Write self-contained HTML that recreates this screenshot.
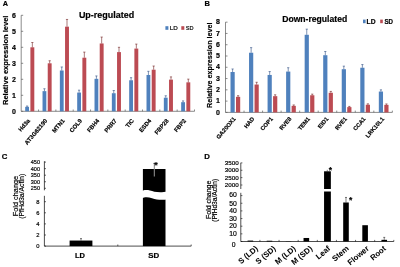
<!DOCTYPE html>
<html><head><meta charset="utf-8"><style>
html,body{margin:0;padding:0;background:#fff;}
svg{display:block;will-change:transform;}
text{font-family:"Liberation Sans", sans-serif;stroke:#000;stroke-width:0.18px;}
</style></head><body>
<svg width="400" height="267" viewBox="0 0 400 267">
<rect width="400" height="267" fill="#fff"/>
<text x="2.80" y="6.20" font-size="7.3" font-weight="bold" text-anchor="start" fill="#000">A</text>
<text x="78.90" y="18.10" font-size="8.8" font-weight="bold" text-anchor="start" textLength="55.3" lengthAdjust="spacingAndGlyphs" fill="#000">Up-regulated</text>
<rect x="165.40" y="26.20" width="3.00" height="3.60" fill="#4F81BD"/>
<text x="169.80" y="30.20" font-size="6.0" font-weight="normal" text-anchor="start" textLength="8.0" lengthAdjust="spacingAndGlyphs" fill="#000">LD</text>
<rect x="181.30" y="26.20" width="3.00" height="3.60" fill="#BC4B53"/>
<text x="185.70" y="30.20" font-size="6.0" font-weight="normal" text-anchor="start" textLength="7.8" lengthAdjust="spacingAndGlyphs" fill="#000">SD</text>
<text x="8.30" y="60.30" font-size="7.6" font-weight="bold" text-anchor="middle" textLength="89.5" lengthAdjust="spacingAndGlyphs" transform="rotate(-90 8.30 60.30)" fill="#000">Relative expression level</text>
<text x="15.80" y="113.50" font-size="7.0" font-weight="bold" text-anchor="end" fill="#000">0</text>
<line x1="21.20" y1="111.30" x2="23.20" y2="111.30" stroke="#5a5a5a" stroke-width="0.7"/>
<text x="15.80" y="97.50" font-size="7.0" font-weight="bold" text-anchor="end" fill="#000">1</text>
<line x1="21.20" y1="95.30" x2="23.20" y2="95.30" stroke="#5a5a5a" stroke-width="0.7"/>
<text x="15.80" y="81.50" font-size="7.0" font-weight="bold" text-anchor="end" fill="#000">2</text>
<line x1="21.20" y1="79.30" x2="23.20" y2="79.30" stroke="#5a5a5a" stroke-width="0.7"/>
<text x="15.80" y="65.50" font-size="7.0" font-weight="bold" text-anchor="end" fill="#000">3</text>
<line x1="21.20" y1="63.30" x2="23.20" y2="63.30" stroke="#5a5a5a" stroke-width="0.7"/>
<text x="15.80" y="49.50" font-size="7.0" font-weight="bold" text-anchor="end" fill="#000">4</text>
<line x1="21.20" y1="47.30" x2="23.20" y2="47.30" stroke="#5a5a5a" stroke-width="0.7"/>
<text x="15.80" y="33.50" font-size="7.0" font-weight="bold" text-anchor="end" fill="#000">5</text>
<line x1="21.20" y1="31.30" x2="23.20" y2="31.30" stroke="#5a5a5a" stroke-width="0.7"/>
<text x="15.80" y="17.50" font-size="7.0" font-weight="bold" text-anchor="end" fill="#000">6</text>
<line x1="21.20" y1="15.30" x2="23.20" y2="15.30" stroke="#5a5a5a" stroke-width="0.7"/>
<line x1="21.20" y1="15.30" x2="21.20" y2="111.30" stroke="#5a5a5a" stroke-width="0.7"/>
<line x1="21.20" y1="111.30" x2="194.50" y2="111.30" stroke="#5a5a5a" stroke-width="0.7"/>
<line x1="38.53" y1="111.30" x2="38.53" y2="109.50" stroke="#5a5a5a" stroke-width="0.7"/>
<rect x="25.20" y="106.82" width="3.80" height="4.48" fill="#4F81BD"/>
<line x1="27.10" y1="106.02" x2="27.10" y2="106.82" stroke="#2a4a80" stroke-width="0.6"/>
<line x1="26.00" y1="106.02" x2="28.20" y2="106.02" stroke="#2a4a80" stroke-width="0.6"/>
<rect x="30.40" y="47.30" width="3.90" height="64.00" fill="#BC4B53"/>
<line x1="32.35" y1="42.50" x2="32.35" y2="47.30" stroke="#702020" stroke-width="0.6"/>
<line x1="31.25" y1="42.50" x2="33.45" y2="42.50" stroke="#702020" stroke-width="0.6"/>
<text x="30.36" y="121.00" font-size="5.9" font-weight="bold" text-anchor="end" transform="rotate(-50 30.36 121.00)" fill="#000">Hd3a</text>
<line x1="55.86" y1="111.30" x2="55.86" y2="109.50" stroke="#5a5a5a" stroke-width="0.7"/>
<rect x="42.53" y="91.14" width="3.80" height="20.16" fill="#4F81BD"/>
<line x1="44.43" y1="88.74" x2="44.43" y2="91.14" stroke="#2a4a80" stroke-width="0.6"/>
<line x1="43.33" y1="88.74" x2="45.53" y2="88.74" stroke="#2a4a80" stroke-width="0.6"/>
<rect x="47.73" y="63.30" width="3.90" height="48.00" fill="#BC4B53"/>
<line x1="49.68" y1="60.74" x2="49.68" y2="63.30" stroke="#702020" stroke-width="0.6"/>
<line x1="48.58" y1="60.74" x2="50.78" y2="60.74" stroke="#702020" stroke-width="0.6"/>
<text x="47.70" y="121.00" font-size="5.9" font-weight="bold" text-anchor="end" transform="rotate(-50 47.70 121.00)" fill="#000">AT3G62190</text>
<line x1="73.19" y1="111.30" x2="73.19" y2="109.50" stroke="#5a5a5a" stroke-width="0.7"/>
<rect x="59.86" y="70.50" width="3.80" height="40.80" fill="#4F81BD"/>
<line x1="61.76" y1="66.98" x2="61.76" y2="70.50" stroke="#2a4a80" stroke-width="0.6"/>
<line x1="60.66" y1="66.98" x2="62.86" y2="66.98" stroke="#2a4a80" stroke-width="0.6"/>
<rect x="65.06" y="26.66" width="3.90" height="84.64" fill="#BC4B53"/>
<line x1="67.01" y1="19.46" x2="67.01" y2="26.66" stroke="#702020" stroke-width="0.6"/>
<line x1="65.91" y1="19.46" x2="68.11" y2="19.46" stroke="#702020" stroke-width="0.6"/>
<text x="65.03" y="121.00" font-size="5.9" font-weight="bold" text-anchor="end" transform="rotate(-50 65.03 121.00)" fill="#000">MTN1</text>
<line x1="90.52" y1="111.30" x2="90.52" y2="109.50" stroke="#5a5a5a" stroke-width="0.7"/>
<rect x="77.19" y="92.58" width="3.80" height="18.72" fill="#4F81BD"/>
<line x1="79.09" y1="90.18" x2="79.09" y2="92.58" stroke="#2a4a80" stroke-width="0.6"/>
<line x1="77.99" y1="90.18" x2="80.19" y2="90.18" stroke="#2a4a80" stroke-width="0.6"/>
<rect x="82.39" y="57.70" width="3.90" height="53.60" fill="#BC4B53"/>
<line x1="84.34" y1="52.10" x2="84.34" y2="57.70" stroke="#702020" stroke-width="0.6"/>
<line x1="83.24" y1="52.10" x2="85.44" y2="52.10" stroke="#702020" stroke-width="0.6"/>
<text x="82.35" y="121.00" font-size="5.9" font-weight="bold" text-anchor="end" transform="rotate(-50 82.35 121.00)" fill="#000">COL9</text>
<line x1="107.85" y1="111.30" x2="107.85" y2="109.50" stroke="#5a5a5a" stroke-width="0.7"/>
<rect x="94.52" y="78.82" width="3.80" height="32.48" fill="#4F81BD"/>
<line x1="96.42" y1="75.94" x2="96.42" y2="78.82" stroke="#2a4a80" stroke-width="0.6"/>
<line x1="95.32" y1="75.94" x2="97.52" y2="75.94" stroke="#2a4a80" stroke-width="0.6"/>
<rect x="99.72" y="43.46" width="3.90" height="67.84" fill="#BC4B53"/>
<line x1="101.67" y1="37.06" x2="101.67" y2="43.46" stroke="#702020" stroke-width="0.6"/>
<line x1="100.57" y1="37.06" x2="102.77" y2="37.06" stroke="#702020" stroke-width="0.6"/>
<text x="99.69" y="121.00" font-size="5.9" font-weight="bold" text-anchor="end" transform="rotate(-50 99.69 121.00)" fill="#000">FBH4</text>
<line x1="125.18" y1="111.30" x2="125.18" y2="109.50" stroke="#5a5a5a" stroke-width="0.7"/>
<rect x="111.85" y="93.22" width="3.80" height="18.08" fill="#4F81BD"/>
<line x1="113.75" y1="90.50" x2="113.75" y2="93.22" stroke="#2a4a80" stroke-width="0.6"/>
<line x1="112.65" y1="90.50" x2="114.85" y2="90.50" stroke="#2a4a80" stroke-width="0.6"/>
<rect x="117.05" y="52.10" width="3.90" height="59.20" fill="#BC4B53"/>
<line x1="119.00" y1="47.30" x2="119.00" y2="52.10" stroke="#702020" stroke-width="0.6"/>
<line x1="117.90" y1="47.30" x2="120.10" y2="47.30" stroke="#702020" stroke-width="0.6"/>
<text x="117.01" y="121.00" font-size="5.9" font-weight="bold" text-anchor="end" transform="rotate(-50 117.01 121.00)" fill="#000">PRR7</text>
<line x1="142.51" y1="111.30" x2="142.51" y2="109.50" stroke="#5a5a5a" stroke-width="0.7"/>
<rect x="129.18" y="80.26" width="3.80" height="31.04" fill="#4F81BD"/>
<line x1="131.08" y1="77.70" x2="131.08" y2="80.26" stroke="#2a4a80" stroke-width="0.6"/>
<line x1="129.98" y1="77.70" x2="132.18" y2="77.70" stroke="#2a4a80" stroke-width="0.6"/>
<rect x="134.38" y="48.58" width="3.90" height="62.72" fill="#BC4B53"/>
<line x1="136.33" y1="44.10" x2="136.33" y2="48.58" stroke="#702020" stroke-width="0.6"/>
<line x1="135.23" y1="44.10" x2="137.43" y2="44.10" stroke="#702020" stroke-width="0.6"/>
<text x="134.34" y="121.00" font-size="5.9" font-weight="bold" text-anchor="end" transform="rotate(-50 134.34 121.00)" fill="#000">TIC</text>
<line x1="159.84" y1="111.30" x2="159.84" y2="109.50" stroke="#5a5a5a" stroke-width="0.7"/>
<rect x="146.51" y="74.98" width="3.80" height="36.32" fill="#4F81BD"/>
<line x1="148.41" y1="71.30" x2="148.41" y2="74.98" stroke="#2a4a80" stroke-width="0.6"/>
<line x1="147.31" y1="71.30" x2="149.51" y2="71.30" stroke="#2a4a80" stroke-width="0.6"/>
<rect x="151.71" y="69.70" width="3.90" height="41.60" fill="#BC4B53"/>
<line x1="153.66" y1="66.02" x2="153.66" y2="69.70" stroke="#702020" stroke-width="0.6"/>
<line x1="152.56" y1="66.02" x2="154.76" y2="66.02" stroke="#702020" stroke-width="0.6"/>
<text x="151.67" y="121.00" font-size="5.9" font-weight="bold" text-anchor="end" transform="rotate(-50 151.67 121.00)" fill="#000">ESD4</text>
<line x1="177.17" y1="111.30" x2="177.17" y2="109.50" stroke="#5a5a5a" stroke-width="0.7"/>
<rect x="163.84" y="97.70" width="3.80" height="13.60" fill="#4F81BD"/>
<line x1="165.74" y1="95.78" x2="165.74" y2="97.70" stroke="#2a4a80" stroke-width="0.6"/>
<line x1="164.64" y1="95.78" x2="166.84" y2="95.78" stroke="#2a4a80" stroke-width="0.6"/>
<rect x="169.04" y="79.62" width="3.90" height="31.68" fill="#BC4B53"/>
<line x1="170.99" y1="76.90" x2="170.99" y2="79.62" stroke="#702020" stroke-width="0.6"/>
<line x1="169.89" y1="76.90" x2="172.09" y2="76.90" stroke="#702020" stroke-width="0.6"/>
<text x="169.00" y="121.00" font-size="5.9" font-weight="bold" text-anchor="end" transform="rotate(-50 169.00 121.00)" fill="#000">FBP28</text>
<line x1="194.50" y1="111.30" x2="194.50" y2="109.50" stroke="#5a5a5a" stroke-width="0.7"/>
<rect x="181.17" y="102.18" width="3.80" height="9.12" fill="#4F81BD"/>
<line x1="183.07" y1="100.90" x2="183.07" y2="102.18" stroke="#2a4a80" stroke-width="0.6"/>
<line x1="181.97" y1="100.90" x2="184.17" y2="100.90" stroke="#2a4a80" stroke-width="0.6"/>
<rect x="186.37" y="82.34" width="3.90" height="28.96" fill="#BC4B53"/>
<line x1="188.32" y1="79.14" x2="188.32" y2="82.34" stroke="#702020" stroke-width="0.6"/>
<line x1="187.22" y1="79.14" x2="189.42" y2="79.14" stroke="#702020" stroke-width="0.6"/>
<text x="186.33" y="121.00" font-size="5.9" font-weight="bold" text-anchor="end" transform="rotate(-50 186.33 121.00)" fill="#000">FBP2</text>
<text x="204.50" y="6.30" font-size="7.5" font-weight="bold" text-anchor="start" fill="#000">B</text>
<text x="282.20" y="22.20" font-size="8.2" font-weight="bold" text-anchor="start" textLength="65" lengthAdjust="spacingAndGlyphs" fill="#000">Down-regulated</text>
<rect x="363.00" y="19.60" width="2.60" height="3.60" fill="#4F81BD"/>
<text x="366.60" y="23.80" font-size="6.6" font-weight="bold" text-anchor="start" textLength="9.0" lengthAdjust="spacingAndGlyphs" fill="#000">LD</text>
<rect x="380.20" y="19.60" width="2.60" height="3.60" fill="#BC4B53"/>
<text x="384.40" y="23.80" font-size="6.6" font-weight="bold" text-anchor="start" textLength="8.6" lengthAdjust="spacingAndGlyphs" fill="#000">SD</text>
<text x="212.50" y="65.20" font-size="7.2" font-weight="bold" text-anchor="middle" textLength="85.5" lengthAdjust="spacingAndGlyphs" transform="rotate(-90 212.50 65.20)" fill="#000">Relative expression level</text>
<text x="220.00" y="114.50" font-size="7.0" font-weight="bold" text-anchor="end" fill="#000">0</text>
<line x1="225.50" y1="112.40" x2="227.50" y2="112.40" stroke="#5a5a5a" stroke-width="0.7"/>
<text x="220.00" y="103.22" font-size="7.0" font-weight="bold" text-anchor="end" fill="#000">1</text>
<line x1="225.50" y1="101.12" x2="227.50" y2="101.12" stroke="#5a5a5a" stroke-width="0.7"/>
<text x="220.00" y="91.94" font-size="7.0" font-weight="bold" text-anchor="end" fill="#000">2</text>
<line x1="225.50" y1="89.84" x2="227.50" y2="89.84" stroke="#5a5a5a" stroke-width="0.7"/>
<text x="220.00" y="80.66" font-size="7.0" font-weight="bold" text-anchor="end" fill="#000">3</text>
<line x1="225.50" y1="78.56" x2="227.50" y2="78.56" stroke="#5a5a5a" stroke-width="0.7"/>
<text x="220.00" y="69.38" font-size="7.0" font-weight="bold" text-anchor="end" fill="#000">4</text>
<line x1="225.50" y1="67.28" x2="227.50" y2="67.28" stroke="#5a5a5a" stroke-width="0.7"/>
<text x="220.00" y="58.10" font-size="7.0" font-weight="bold" text-anchor="end" fill="#000">5</text>
<line x1="225.50" y1="56.00" x2="227.50" y2="56.00" stroke="#5a5a5a" stroke-width="0.7"/>
<text x="220.00" y="46.82" font-size="7.0" font-weight="bold" text-anchor="end" fill="#000">6</text>
<line x1="225.50" y1="44.72" x2="227.50" y2="44.72" stroke="#5a5a5a" stroke-width="0.7"/>
<text x="220.00" y="35.54" font-size="7.0" font-weight="bold" text-anchor="end" fill="#000">7</text>
<line x1="225.50" y1="33.44" x2="227.50" y2="33.44" stroke="#5a5a5a" stroke-width="0.7"/>
<text x="220.00" y="24.26" font-size="7.0" font-weight="bold" text-anchor="end" fill="#000">8</text>
<line x1="225.50" y1="22.16" x2="227.50" y2="22.16" stroke="#5a5a5a" stroke-width="0.7"/>
<line x1="225.50" y1="22.16" x2="225.50" y2="112.40" stroke="#5a5a5a" stroke-width="0.7"/>
<line x1="225.50" y1="112.40" x2="392.36" y2="112.40" stroke="#5a5a5a" stroke-width="0.7"/>
<line x1="244.04" y1="112.40" x2="244.04" y2="110.60" stroke="#5a5a5a" stroke-width="0.7"/>
<rect x="230.50" y="72.02" width="4.20" height="40.38" fill="#4F81BD"/>
<line x1="232.60" y1="68.97" x2="232.60" y2="72.02" stroke="#2a4a80" stroke-width="0.6"/>
<line x1="231.50" y1="68.97" x2="233.70" y2="68.97" stroke="#2a4a80" stroke-width="0.6"/>
<rect x="236.00" y="96.83" width="4.20" height="15.57" fill="#BC4B53"/>
<line x1="238.10" y1="95.71" x2="238.10" y2="96.83" stroke="#702020" stroke-width="0.6"/>
<line x1="237.00" y1="95.71" x2="239.20" y2="95.71" stroke="#702020" stroke-width="0.6"/>
<text x="236.17" y="119.00" font-size="5.8" font-weight="bold" text-anchor="end" transform="rotate(-50 236.17 119.00)" fill="#000">GA20OX1</text>
<line x1="262.58" y1="112.40" x2="262.58" y2="110.60" stroke="#5a5a5a" stroke-width="0.7"/>
<rect x="249.04" y="52.73" width="4.20" height="59.67" fill="#4F81BD"/>
<line x1="251.14" y1="47.65" x2="251.14" y2="52.73" stroke="#2a4a80" stroke-width="0.6"/>
<line x1="250.04" y1="47.65" x2="252.24" y2="47.65" stroke="#2a4a80" stroke-width="0.6"/>
<rect x="254.54" y="84.54" width="4.20" height="27.86" fill="#BC4B53"/>
<line x1="256.64" y1="82.28" x2="256.64" y2="84.54" stroke="#702020" stroke-width="0.6"/>
<line x1="255.54" y1="82.28" x2="257.74" y2="82.28" stroke="#702020" stroke-width="0.6"/>
<text x="254.71" y="119.00" font-size="5.8" font-weight="bold" text-anchor="end" transform="rotate(-50 254.71 119.00)" fill="#000">HAD</text>
<line x1="281.12" y1="112.40" x2="281.12" y2="110.60" stroke="#5a5a5a" stroke-width="0.7"/>
<rect x="267.58" y="74.95" width="4.20" height="37.45" fill="#4F81BD"/>
<line x1="269.68" y1="71.57" x2="269.68" y2="74.95" stroke="#2a4a80" stroke-width="0.6"/>
<line x1="268.58" y1="71.57" x2="270.78" y2="71.57" stroke="#2a4a80" stroke-width="0.6"/>
<rect x="273.08" y="96.16" width="4.20" height="16.24" fill="#BC4B53"/>
<line x1="275.18" y1="94.80" x2="275.18" y2="96.16" stroke="#702020" stroke-width="0.6"/>
<line x1="274.08" y1="94.80" x2="276.28" y2="94.80" stroke="#702020" stroke-width="0.6"/>
<text x="273.25" y="119.00" font-size="5.8" font-weight="bold" text-anchor="end" transform="rotate(-50 273.25 119.00)" fill="#000">COP1</text>
<line x1="299.66" y1="112.40" x2="299.66" y2="110.60" stroke="#5a5a5a" stroke-width="0.7"/>
<rect x="286.12" y="71.57" width="4.20" height="40.83" fill="#4F81BD"/>
<line x1="288.22" y1="67.73" x2="288.22" y2="71.57" stroke="#2a4a80" stroke-width="0.6"/>
<line x1="287.12" y1="67.73" x2="289.32" y2="67.73" stroke="#2a4a80" stroke-width="0.6"/>
<rect x="291.62" y="105.86" width="4.20" height="6.54" fill="#BC4B53"/>
<line x1="293.72" y1="104.96" x2="293.72" y2="105.86" stroke="#702020" stroke-width="0.6"/>
<line x1="292.62" y1="104.96" x2="294.82" y2="104.96" stroke="#702020" stroke-width="0.6"/>
<text x="291.79" y="119.00" font-size="5.8" font-weight="bold" text-anchor="end" transform="rotate(-50 291.79 119.00)" fill="#000">RVE8</text>
<line x1="318.20" y1="112.40" x2="318.20" y2="110.60" stroke="#5a5a5a" stroke-width="0.7"/>
<rect x="304.66" y="34.79" width="4.20" height="77.61" fill="#4F81BD"/>
<line x1="306.76" y1="29.15" x2="306.76" y2="34.79" stroke="#2a4a80" stroke-width="0.6"/>
<line x1="305.66" y1="29.15" x2="307.86" y2="29.15" stroke="#2a4a80" stroke-width="0.6"/>
<rect x="310.16" y="95.25" width="4.20" height="17.15" fill="#BC4B53"/>
<line x1="312.26" y1="94.13" x2="312.26" y2="95.25" stroke="#702020" stroke-width="0.6"/>
<line x1="311.16" y1="94.13" x2="313.36" y2="94.13" stroke="#702020" stroke-width="0.6"/>
<text x="310.33" y="119.00" font-size="5.8" font-weight="bold" text-anchor="end" transform="rotate(-50 310.33 119.00)" fill="#000">TEM1</text>
<line x1="336.74" y1="112.40" x2="336.74" y2="110.60" stroke="#5a5a5a" stroke-width="0.7"/>
<rect x="323.20" y="55.21" width="4.20" height="57.19" fill="#4F81BD"/>
<line x1="325.30" y1="51.49" x2="325.30" y2="55.21" stroke="#2a4a80" stroke-width="0.6"/>
<line x1="324.20" y1="51.49" x2="326.40" y2="51.49" stroke="#2a4a80" stroke-width="0.6"/>
<rect x="328.70" y="92.77" width="4.20" height="19.63" fill="#BC4B53"/>
<line x1="330.80" y1="91.42" x2="330.80" y2="92.77" stroke="#702020" stroke-width="0.6"/>
<line x1="329.70" y1="91.42" x2="331.90" y2="91.42" stroke="#702020" stroke-width="0.6"/>
<text x="328.87" y="119.00" font-size="5.8" font-weight="bold" text-anchor="end" transform="rotate(-50 328.87 119.00)" fill="#000">EID1</text>
<line x1="355.28" y1="112.40" x2="355.28" y2="110.60" stroke="#5a5a5a" stroke-width="0.7"/>
<rect x="341.74" y="69.20" width="4.20" height="43.20" fill="#4F81BD"/>
<line x1="343.84" y1="66.15" x2="343.84" y2="69.20" stroke="#2a4a80" stroke-width="0.6"/>
<line x1="342.74" y1="66.15" x2="344.94" y2="66.15" stroke="#2a4a80" stroke-width="0.6"/>
<rect x="347.24" y="107.10" width="4.20" height="5.30" fill="#BC4B53"/>
<line x1="349.34" y1="106.42" x2="349.34" y2="107.10" stroke="#702020" stroke-width="0.6"/>
<line x1="348.24" y1="106.42" x2="350.44" y2="106.42" stroke="#702020" stroke-width="0.6"/>
<text x="347.41" y="119.00" font-size="5.8" font-weight="bold" text-anchor="end" transform="rotate(-50 347.41 119.00)" fill="#000">RVE1</text>
<line x1="373.82" y1="112.40" x2="373.82" y2="110.60" stroke="#5a5a5a" stroke-width="0.7"/>
<rect x="360.28" y="67.73" width="4.20" height="44.67" fill="#4F81BD"/>
<line x1="362.38" y1="64.57" x2="362.38" y2="67.73" stroke="#2a4a80" stroke-width="0.6"/>
<line x1="361.28" y1="64.57" x2="363.48" y2="64.57" stroke="#2a4a80" stroke-width="0.6"/>
<rect x="365.78" y="104.73" width="4.20" height="7.67" fill="#BC4B53"/>
<line x1="367.88" y1="103.83" x2="367.88" y2="104.73" stroke="#702020" stroke-width="0.6"/>
<line x1="366.78" y1="103.83" x2="368.98" y2="103.83" stroke="#702020" stroke-width="0.6"/>
<text x="365.95" y="119.00" font-size="5.8" font-weight="bold" text-anchor="end" transform="rotate(-50 365.95 119.00)" fill="#000">CCA1</text>
<line x1="392.36" y1="112.40" x2="392.36" y2="110.60" stroke="#5a5a5a" stroke-width="0.7"/>
<rect x="378.82" y="91.53" width="4.20" height="20.87" fill="#4F81BD"/>
<line x1="380.92" y1="89.84" x2="380.92" y2="91.53" stroke="#2a4a80" stroke-width="0.6"/>
<line x1="379.82" y1="89.84" x2="382.02" y2="89.84" stroke="#2a4a80" stroke-width="0.6"/>
<rect x="384.32" y="104.84" width="4.20" height="7.56" fill="#BC4B53"/>
<line x1="386.42" y1="103.94" x2="386.42" y2="104.84" stroke="#702020" stroke-width="0.6"/>
<line x1="385.32" y1="103.94" x2="387.52" y2="103.94" stroke="#702020" stroke-width="0.6"/>
<text x="384.49" y="119.00" font-size="5.8" font-weight="bold" text-anchor="end" transform="rotate(-50 384.49 119.00)" fill="#000">LRK10L1</text>
<text x="1.80" y="158.50" font-size="7.8" font-weight="bold" text-anchor="start" fill="#000">C</text>
<text x="18.20" y="196.00" font-size="7" font-weight="normal" text-anchor="middle" textLength="40.4" lengthAdjust="spacingAndGlyphs" transform="rotate(-90 18.20 196.00)" fill="#000">Fold change</text>
<text x="24.10" y="196.30" font-size="7" font-weight="normal" text-anchor="middle" textLength="45" lengthAdjust="spacingAndGlyphs" transform="rotate(-90 24.10 196.30)" fill="#000">(PfHd3a/Actin)</text>
<line x1="44.40" y1="161.20" x2="44.40" y2="190.30" stroke="#000" stroke-width="0.7"/>
<line x1="44.40" y1="162.10" x2="46.00" y2="162.10" stroke="#000" stroke-width="0.6"/>
<text x="40.00" y="164.00" font-size="5.6" font-weight="normal" text-anchor="end" textLength="9.2" lengthAdjust="spacingAndGlyphs" fill="#000">450</text>
<line x1="44.40" y1="168.65" x2="46.00" y2="168.65" stroke="#000" stroke-width="0.6"/>
<text x="40.00" y="170.55" font-size="5.6" font-weight="normal" text-anchor="end" textLength="9.2" lengthAdjust="spacingAndGlyphs" fill="#000">400</text>
<line x1="44.40" y1="175.20" x2="46.00" y2="175.20" stroke="#000" stroke-width="0.6"/>
<text x="40.00" y="177.10" font-size="5.6" font-weight="normal" text-anchor="end" textLength="9.2" lengthAdjust="spacingAndGlyphs" fill="#000">350</text>
<line x1="44.40" y1="181.75" x2="46.00" y2="181.75" stroke="#000" stroke-width="0.6"/>
<text x="40.00" y="183.65" font-size="5.6" font-weight="normal" text-anchor="end" textLength="9.2" lengthAdjust="spacingAndGlyphs" fill="#000">300</text>
<line x1="44.40" y1="188.30" x2="46.00" y2="188.30" stroke="#000" stroke-width="0.6"/>
<text x="40.00" y="190.20" font-size="5.6" font-weight="normal" text-anchor="end" textLength="9.2" lengthAdjust="spacingAndGlyphs" fill="#000">250</text>
<line x1="44.40" y1="195.80" x2="44.40" y2="246.10" stroke="#000" stroke-width="0.7"/>
<line x1="44.40" y1="246.10" x2="46.00" y2="246.10" stroke="#000" stroke-width="0.6"/>
<text x="39.60" y="248.10" font-size="5.8" font-weight="normal" text-anchor="end" fill="#000">0</text>
<line x1="44.40" y1="235.00" x2="46.00" y2="235.00" stroke="#000" stroke-width="0.6"/>
<text x="39.60" y="237.00" font-size="5.8" font-weight="normal" text-anchor="end" fill="#000">2</text>
<line x1="44.40" y1="223.90" x2="46.00" y2="223.90" stroke="#000" stroke-width="0.6"/>
<text x="39.60" y="225.90" font-size="5.8" font-weight="normal" text-anchor="end" fill="#000">4</text>
<line x1="44.40" y1="212.80" x2="46.00" y2="212.80" stroke="#000" stroke-width="0.6"/>
<text x="39.60" y="214.80" font-size="5.8" font-weight="normal" text-anchor="end" fill="#000">6</text>
<line x1="44.40" y1="201.70" x2="46.00" y2="201.70" stroke="#000" stroke-width="0.6"/>
<text x="39.60" y="203.70" font-size="5.8" font-weight="normal" text-anchor="end" fill="#000">8</text>
<line x1="44.40" y1="246.10" x2="191.20" y2="246.10" stroke="#000" stroke-width="0.7"/>
<line x1="117.80" y1="246.10" x2="117.80" y2="244.50" stroke="#000" stroke-width="0.6"/>
<line x1="191.20" y1="246.10" x2="191.20" y2="244.50" stroke="#000" stroke-width="0.6"/>
<rect x="69.60" y="240.55" width="22.80" height="5.55" fill="#000"/>
<line x1="81.00" y1="240.55" x2="81.00" y2="238.60" stroke="#000" stroke-width="0.5"/>
<line x1="80.00" y1="238.60" x2="82.00" y2="238.60" stroke="#000" stroke-width="0.5"/>
<rect x="142.90" y="169.00" width="22.60" height="77.10" fill="#000"/>
<line x1="154.30" y1="169.00" x2="154.30" y2="176.50" stroke="#fff" stroke-width="0.6"/>
<line x1="154.30" y1="163.40" x2="154.30" y2="169.00" stroke="#000" stroke-width="0.5"/>
<line x1="153.20" y1="163.40" x2="155.40" y2="163.40" stroke="#000" stroke-width="0.5"/>
<path d="M140,191.8 C143,190.2 146,189.6 150,190.6 S158,193.4 168,191.6 L168,199.2 C162,200.4 157,199.8 152,198.2 S144,197.4 140,198.6 Z" fill="#fff"/>
<text x="156.00" y="168.28" font-size="9" font-weight="bold" text-anchor="middle" fill="#000">*</text>
<text x="80.00" y="258.10" font-size="7" font-weight="bold" text-anchor="middle" textLength="10" lengthAdjust="spacingAndGlyphs" fill="#000">LD</text>
<text x="153.70" y="258.10" font-size="7" font-weight="bold" text-anchor="middle" textLength="11" lengthAdjust="spacingAndGlyphs" fill="#000">SD</text>
<text x="204.30" y="158.50" font-size="7.8" font-weight="bold" text-anchor="start" fill="#000">D</text>
<text x="210.60" y="199.80" font-size="6.8" font-weight="normal" text-anchor="middle" textLength="38.4" lengthAdjust="spacingAndGlyphs" transform="rotate(-90 210.60 199.80)" fill="#000">Fold change</text>
<text x="216.60" y="200.30" font-size="6.8" font-weight="normal" text-anchor="middle" textLength="43" lengthAdjust="spacingAndGlyphs" transform="rotate(-90 216.60 200.30)" fill="#000">(PfHd3a/Actin)</text>
<line x1="240.80" y1="162.80" x2="240.80" y2="189.00" stroke="#000" stroke-width="0.7"/>
<line x1="240.80" y1="162.90" x2="242.40" y2="162.90" stroke="#000" stroke-width="0.6"/>
<text x="238.70" y="164.80" font-size="5.6" font-weight="normal" text-anchor="end" textLength="14" lengthAdjust="spacingAndGlyphs" fill="#000">3500</text>
<line x1="240.80" y1="170.27" x2="242.40" y2="170.27" stroke="#000" stroke-width="0.6"/>
<text x="238.70" y="172.17" font-size="5.6" font-weight="normal" text-anchor="end" textLength="14" lengthAdjust="spacingAndGlyphs" fill="#000">3000</text>
<line x1="240.80" y1="177.64" x2="242.40" y2="177.64" stroke="#000" stroke-width="0.6"/>
<text x="238.70" y="179.54" font-size="5.6" font-weight="normal" text-anchor="end" textLength="14" lengthAdjust="spacingAndGlyphs" fill="#000">2500</text>
<line x1="240.80" y1="185.01" x2="242.40" y2="185.01" stroke="#000" stroke-width="0.6"/>
<text x="238.70" y="186.91" font-size="5.6" font-weight="normal" text-anchor="end" textLength="14" lengthAdjust="spacingAndGlyphs" fill="#000">2000</text>
<line x1="240.80" y1="192.80" x2="240.80" y2="241.50" stroke="#000" stroke-width="0.7"/>
<line x1="240.80" y1="241.50" x2="242.40" y2="241.50" stroke="#000" stroke-width="0.6"/>
<text x="235.60" y="246.60" font-size="6.8" font-weight="normal" text-anchor="end" fill="#000">0</text>
<line x1="240.80" y1="233.85" x2="242.40" y2="233.85" stroke="#000" stroke-width="0.6"/>
<text x="236.90" y="236.40" font-size="6.8" font-weight="normal" text-anchor="end" fill="#000">10</text>
<line x1="240.80" y1="226.20" x2="242.40" y2="226.20" stroke="#000" stroke-width="0.6"/>
<text x="236.90" y="228.20" font-size="6.8" font-weight="normal" text-anchor="end" fill="#000">20</text>
<line x1="240.80" y1="218.55" x2="242.40" y2="218.55" stroke="#000" stroke-width="0.6"/>
<text x="236.90" y="221.40" font-size="6.8" font-weight="normal" text-anchor="end" fill="#000">30</text>
<line x1="240.80" y1="210.90" x2="242.40" y2="210.90" stroke="#000" stroke-width="0.6"/>
<text x="236.90" y="213.10" font-size="6.8" font-weight="normal" text-anchor="end" fill="#000">40</text>
<line x1="240.80" y1="203.25" x2="242.40" y2="203.25" stroke="#000" stroke-width="0.6"/>
<text x="236.90" y="205.70" font-size="6.8" font-weight="normal" text-anchor="end" fill="#000">50</text>
<line x1="240.80" y1="195.60" x2="242.40" y2="195.60" stroke="#000" stroke-width="0.6"/>
<text x="236.90" y="197.40" font-size="6.8" font-weight="normal" text-anchor="end" fill="#000">60</text>
<line x1="240.80" y1="241.50" x2="393.80" y2="241.50" stroke="#000" stroke-width="0.7"/>
<line x1="259.93" y1="241.50" x2="259.93" y2="239.90" stroke="#000" stroke-width="0.6"/>
<rect x="247.56" y="240.58" width="5.60" height="0.92" fill="#000"/>
<text x="258.50" y="249.40" font-size="7.8" font-weight="bold" text-anchor="end" transform="rotate(-40 258.50 249.40)" fill="#000" style="stroke-width:0.05px">S (LD)</text>
<line x1="279.05" y1="241.50" x2="279.05" y2="239.90" stroke="#000" stroke-width="0.6"/>
<rect x="266.69" y="240.74" width="5.60" height="0.77" fill="#000"/>
<text x="276.30" y="249.40" font-size="7.8" font-weight="bold" text-anchor="end" transform="rotate(-40 276.30 249.40)" fill="#000" style="stroke-width:0.05px">S (SD)</text>
<line x1="298.18" y1="241.50" x2="298.18" y2="239.90" stroke="#000" stroke-width="0.6"/>
<rect x="285.81" y="241.27" width="5.60" height="0.23" fill="#000"/>
<text x="296.30" y="249.40" font-size="7.8" font-weight="bold" text-anchor="end" transform="rotate(-40 296.30 249.40)" fill="#000" style="stroke-width:0.05px">M (LD)</text>
<line x1="317.30" y1="241.50" x2="317.30" y2="239.90" stroke="#000" stroke-width="0.6"/>
<rect x="303.54" y="237.98" width="5.60" height="3.52" fill="#000"/>
<text x="312.90" y="249.40" font-size="7.8" font-weight="bold" text-anchor="end" transform="rotate(-40 312.90 249.40)" fill="#000" style="stroke-width:0.05px">M (SD)</text>
<line x1="336.43" y1="241.50" x2="336.43" y2="239.90" stroke="#000" stroke-width="0.6"/>
<rect x="324.06" y="171.30" width="6.80" height="70.20" fill="#000"/>
<rect x="323.26" y="189.00" width="8.00" height="2.50" fill="#fff"/>
<line x1="327.26" y1="169.80" x2="327.26" y2="171.30" stroke="#000" stroke-width="0.5"/>
<text x="330.80" y="249.40" font-size="7.8" font-weight="bold" text-anchor="end" transform="rotate(-40 330.80 249.40)" fill="#000" style="stroke-width:0.05px">Leaf</text>
<line x1="355.55" y1="241.50" x2="355.55" y2="239.90" stroke="#000" stroke-width="0.6"/>
<rect x="343.19" y="202.49" width="5.60" height="39.02" fill="#000"/>
<line x1="345.99" y1="197.44" x2="345.99" y2="202.49" stroke="#000" stroke-width="0.5"/>
<line x1="344.99" y1="197.44" x2="346.99" y2="197.44" stroke="#000" stroke-width="0.5"/>
<text x="349.40" y="249.40" font-size="7.8" font-weight="bold" text-anchor="end" transform="rotate(-40 349.40 249.40)" fill="#000" style="stroke-width:0.05px">Stem</text>
<line x1="374.68" y1="241.50" x2="374.68" y2="239.90" stroke="#000" stroke-width="0.6"/>
<rect x="362.31" y="225.21" width="5.60" height="16.29" fill="#000"/>
<text x="369.50" y="249.40" font-size="7.8" font-weight="bold" text-anchor="end" transform="rotate(-40 369.50 249.40)" fill="#000" style="stroke-width:0.05px">Flower</text>
<line x1="393.80" y1="241.50" x2="393.80" y2="239.90" stroke="#000" stroke-width="0.6"/>
<rect x="381.44" y="239.82" width="5.60" height="1.68" fill="#000"/>
<line x1="384.24" y1="237.37" x2="384.24" y2="239.82" stroke="#000" stroke-width="0.5"/>
<line x1="383.24" y1="237.37" x2="385.24" y2="237.37" stroke="#000" stroke-width="0.5"/>
<text x="386.50" y="249.40" font-size="7.8" font-weight="bold" text-anchor="end" transform="rotate(-40 386.50 249.40)" fill="#000" style="stroke-width:0.05px">Root</text>
<text x="330.40" y="172.62" font-size="8.5" font-weight="bold" text-anchor="middle" fill="#000">*</text>
<text x="350.60" y="203.22" font-size="8.5" font-weight="bold" text-anchor="middle" fill="#000">*</text>
</svg>
</body></html>
